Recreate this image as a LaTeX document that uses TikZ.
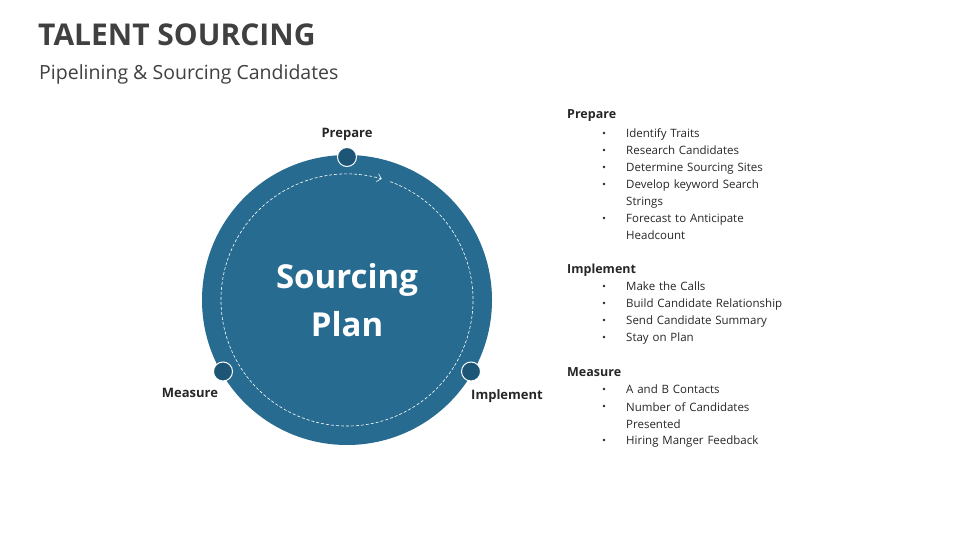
\documentclass[tikz,border=0pt]{standalone}
\usepackage{fontspec}
\setmainfont{Open Sans}
\usetikzlibrary{arrows.meta}
\definecolor{blu}{HTML}{276B91}
\definecolor{dblu}{HTML}{1C5575}
\definecolor{txt}{HTML}{404040}
\begin{document}
\begin{tikzpicture}[x=1pt,y=-1pt,
  dot/.style={circle,fill=dblu,draw=white,line width=1pt,minimum size=19pt,inner sep=0pt},
  lab/.style={font=\bfseries\fontsize{13}{16}\selectfont,text=black!85},
  head/.style={anchor=west,font=\bfseries\fontsize{12.5}{16}\selectfont,text=black!85,inner sep=0pt},
  item/.style={anchor=north west,font=\fontsize{11.5}{17}\selectfont,text=black!85,inner sep=0pt,align=left,text width=170pt},
  bul/.style={circle,fill=black!85,inner sep=0pt,minimum size=2.6pt}]
\useasboundingbox (0,0) rectangle (960,540);
\node[anchor=west,inner sep=0pt,text=txt,font=\bfseries\fontsize{30}{36}\selectfont] (title) at (38,35) {TALENT SOURCING};
\node[anchor=west,inner sep=0pt,text=txt,font=\fontsize{19.5}{24}\selectfont] (sub) at (39,74) {Pipelining \& Sourcing Candidates};
\node[circle,fill=blu,minimum size=290pt,inner sep=0pt] (c) at (347,300) {};
\draw[white,densely dashed,line width=0.6pt,-{Straight Barb[length=4pt,width=8pt]}] (c.center) ++(-70:126) arc (-70:286:126);
\node[text=white,align=center,font=\bfseries\fontsize{33}{48}\selectfont] (t) at (347,300) {Sourcing\\Plan};
\node[dot] (d1) at (347,157) {};
\node[dot] (d2) at (223,371.5) {};
\node[dot] (d3) at (471,371.5) {};
\node[lab] (l1) at (347,134) {Prepare};
\node[lab] (l2) at (190,393) {Measure};
\node[lab] (l3) at (507,396) {Implement};
\node[head] (h1) at (567,116) {Prepare};
\foreach \y/\t in {128/Identify Traits,145/Research Candidates,162/Determine Sourcing Sites,179/{Develop keyword Search\\Strings},213/{Forecast to Anticipate\\Headcount}}{
  \node[bul] at (604,\y+5) {};
  \node[item] at (626,\y+1) {\t};}
\node[head] (h2) at (567,270) {Implement};
\foreach \y/\t in {281/Make the Calls,298/Build Candidate Relationship,315/Send Candidate Summary,332/Stay on Plan}{
  \node[bul] at (604,\y+5) {};
  \node[item] at (626,\y+1) {\t};}
\node[head] (h3) at (567,372) {Measure};
\foreach \y/\t in {384/A and B Contacts,401/{Number of Candidates\\Presented},435/Hiring Manger Feedback}{
  \node[bul] at (604,\y+5) {};
  \node[item] at (626,\y+1) {\t};}
\end{tikzpicture}
\end{document}
